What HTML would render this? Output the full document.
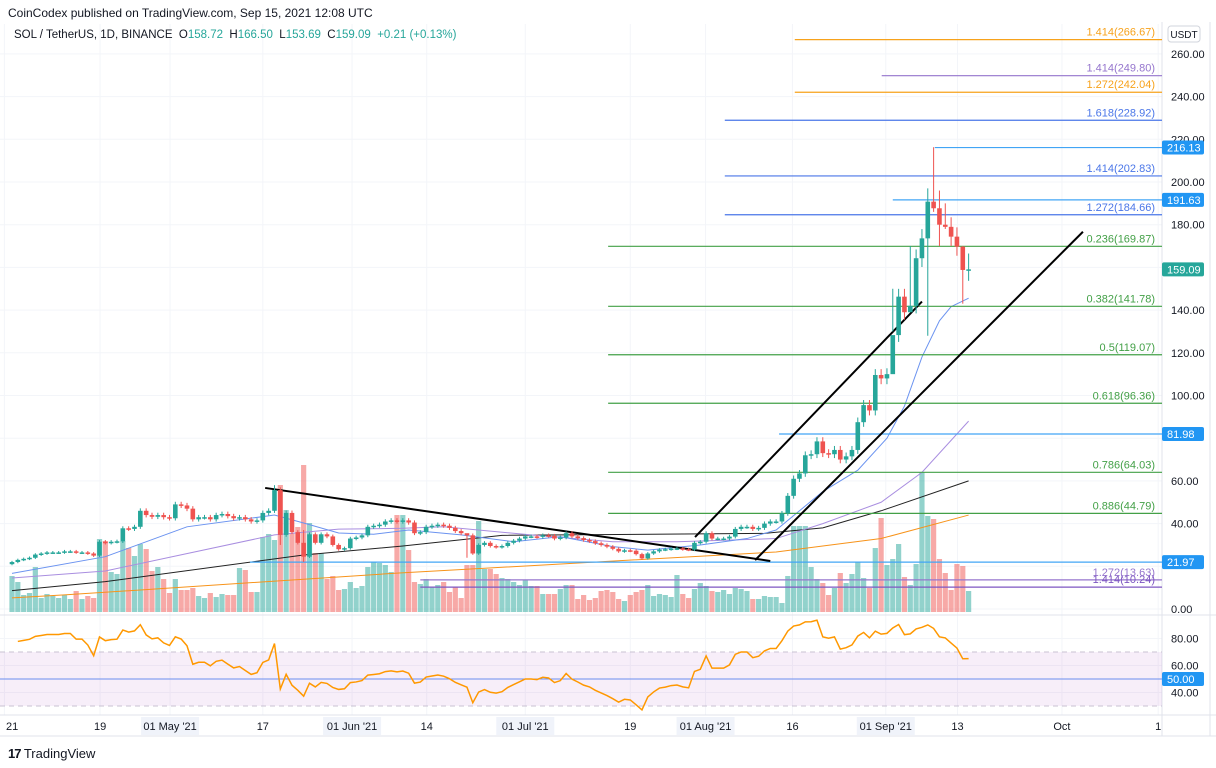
<!DOCTYPE html>
<html><head><meta charset="utf-8"><style>
html,body{margin:0;padding:0;background:#fff;width:1216px;height:768px;overflow:hidden;font-family:"Liberation Sans",sans-serif}
#hdr{position:absolute;left:8px;top:6px;font-size:12px;color:#131722}
#sym{position:absolute;left:14px;top:29px;font-size:11.5px;color:#131722}
#sym span.v{color:#26a69a}
#logo{position:absolute;left:8px;top:746px;font-size:13px;color:#131722}
</style></head><body>
<svg id="chart" width="1216" height="768" style="position:absolute;left:0;top:0" font-family="Liberation Sans, sans-serif"></svg>
<div id="hdr">CoinCodex published on TradingView.com, Sep 15, 2021 12:08 UTC</div>
<div id="sym">SOL / TetherUS, 1D, BINANCE&nbsp; O<span class="v">158.72</span>&nbsp; H<span class="v">166.50</span>&nbsp; L<span class="v">153.69</span>&nbsp; C<span class="v">159.09</span>&nbsp; <span class="v">+0.21 (+0.13%)</span></div>
<div id="logo"><b style="letter-spacing:-1px">17</b> TradingView</div>
<script>
const closes=[22,23,23.5,24,25.5,26,26.5,26.5,26.5,27,27,26.5,26.5,26,25,31.5,31,31.5,31.7,37.8,37.5,38.5,46,44,43.2,44,43,42.5,49,48.5,47,42,43,43,42,44,44.5,43.5,42.5,43,42,41,41.5,45,46,55.7,34.7,45,36,31,24.5,35,31,35,34,30,28,28.5,33,33.5,34.5,38.5,39,39.5,
41,41.5,41,41.5,40.5,35.5,36,38.5,39,39.5,39,38,36.5,35.5,34.5,26,30,31,29.5,29,29.5,31,32,33,34,34,33.8,34.5,34.3,33,33.5,35.5,34,33.2,32.3,31.8,30.8,30,29.2,28.2,27,27.5,27.3,25.7,23.7,26,27,27.8,28,28.3,28.4,28,27.8,31,31.5,35.5,33,33,33,33.9,37.5,38.5,38.5,37.5,38,40,41,41,44.8,
53,61,63.5,72,72.5,78.5,73,72.5,74.5,70,71.5,74.5,87.5,95.5,93,109.6,108,110,128.3,146.3,139,142,164.3,173.6,190.8,187.7,180,179,174.4,169.7,158.8,159.09];
const firstOpen=21;
const wicks={46:[58,45],47:[57,30],51:[37,22],79:[35,24],158:[197,128],159:[216.3,186],160:[196,170],161:[190,178],164:[170,143],165:[166.5,153.7],155:[170,139],152:[150,130]};
const volumes=[36,30,17,19,45,14,18,16,14,17,13,21,13,16,14,73,71,40,38,71,64,56,68,63,41,45,33,19,33,22,22,24,16,14,19,15,18,17,17,44,42,20,20,75,78,72,127,102,79,85,147,89,59,59,33,36,22,23,30,24,26,45,50,49,
47,40,97,97,62,30,28,33,25,27,30,20,25,14,47,47,91,43,43,38,34,33,30,27,32,26,26,18,18,18,23,27,27,13,17,12,14,21,22,20,13,11,17,20,22,27,16,18,17,15,37,18,14,23,29,26,21,20,22,18,24,23,21,13,13,16,15,15,
9,36,86,86,86,45,33,29,17,24,39,29,38,50,34,24,64,94,47,53,68,35,27,48,140,96,93,53,39,22,48,46,21];
const maBlue=[[1,16.7],[17,24.5],[31,38.5],[46,44],[51,40.3],[57,35.6],[63,35],[69,37],[78,34.7],[87,31.5],[95,33.9],[104,29.2],[110,27.6],[119,30],[127,33],[132,37],[140,55],[146,65],[151,80],[154,95],[157,118],[160,135],[162,141.6],[165,145.6]];
const maPurple=[[1,14.5],[17,17.8],[46,34.7],[57,37.4],[68,37.8],[75,38.5],[90,34.7],[104,31.5],[115,31.5],[132,33],[140,40],[150,50],[157,64],[165,88]];
const maBlack=[[1,8.6],[17,12.8],[51,25.3],[68,29.5],[85,34.5],[130,35.4],[140,38],[150,46],[165,60]];
const maOrange=[[1,5.2],[10,6.6],[67,16.8],[132,26.7],[150,33],[165,44]];
const priceTicks=[260,240,220,200,180,140,120,100,60,40,0];
const rsiTicks=[80,60,40];
const dateLabels=["21","19","01 May '21","17","01 Jun '21","14","01 Jul '21","19","01 Aug '21","16","01 Sep '21","13","Oct","1"];
const dateItems=[-0.3,16.1,28.1,44,59.3,72.1,89,107,119.9,134.8,150.8,163.1,181,197.5];
const dateBoxed=[0,0,1,0,1,0,1,0,1,0,1,0,0,0];
const fibPrices=[266.67,249.80,242.04,228.92,202.83,184.66,169.87,141.78,119.07,96.36,64.03,44.79,13.63,10.24];
const fibLabels=["1.414","1.414","1.272","1.618","1.414","1.272","0.236","0.382","0.5","0.618","0.786","0.886","1.272","1.414"];
const fibStart=[135.2,150.1,135.2,123.2,123.2,123.2,103.2,103.2,103.2,103.2,103.2,103.2,71,71];
const fibColors=["#f7a21b","#9575cd","#f7a21b","#4a76e8","#4a76e8","#4a76e8","#43a047","#43a047","#43a047","#43a047","#43a047","#43a047","#9575cd","#7e57c2"];
const hLevels=[216.13,191.63,81.98,21.97];
const hStart=[159.2,152,132.5,41.8];
const trendLines=[[44.4,56.7,131,22.5],[118.1,33.7,157,144],[128.4,22.9,184.6,176.7]];

const X=i=>12+(i-1)*5.833;
const Y=p=>609-p*2.135;
const RY=r=>679-(r-50)*1.35;
const VB=612;
const svg=document.getElementById('chart');
const NS='http://www.w3.org/2000/svg';
function mk(tag,attrs,parent){const e=document.createElementNS(NS,tag);for(const k in attrs)e.setAttribute(k,attrs[k]);(parent||svg).appendChild(e);return e;}
const AX=1162;
const grid=mk('g',{});


for(let p=0;p<=260;p+=20)mk('line',{x1:0,x2:AX,y1:Y(p),y2:Y(p),stroke:'#f3f5f9'},grid);
dateItems.forEach(d=>{const x=X(d);mk('line',{x1:x,x2:x,y1:24,y2:715,stroke:'#f3f5f9'},grid);});
[80,60,40].forEach(r=>mk('line',{x1:0,x2:AX,y1:RY(r),y2:RY(r),stroke:'#f3f5f9'},grid));
mk('line',{x1:0,x2:1216,y1:615,y2:615,stroke:'#e0e3eb'});
mk('line',{x1:0,x2:1216,y1:715,y2:715,stroke:'#e0e3eb'});
mk('line',{x1:0,x2:1216,y1:736,y2:736,stroke:'#e0e3eb'});
mk('line',{x1:AX,x2:AX,y1:22,y2:736,stroke:'#e0e3eb'});
mk('line',{x1:1210,x2:1210,y1:22,y2:736,stroke:'#e0e3eb'});
const vg=mk('g',{});


volumes.forEach((v,k)=>{const i=k+1;const o=k?closes[k-1]:firstOpen;const up=closes[k]>=o;
 const r=mk('rect',{x:X(i)-2.6,y:VB-v,width:5.2,height:v,fill:up?'rgba(38,166,154,0.5)':'rgba(239,83,80,0.5)'},vg);
 
 });
function ma(arr,color,name){const pts=arr.map(a=>X(a[0])+','+Y(a[1])).join(' ');const l=mk('polyline',{points:pts,fill:'none',stroke:color,'stroke-width':1});
 
 }
ma(maOrange,'#f7931a','ma-200-orange');ma(maBlack,'#222','ma-100-black');ma(maPurple,'#a98ee0','ma-50-purple');ma(maBlue,'#6b93f0','ma-20-blue');
fibPrices.forEach((p,k)=>{const y=Y(p);const l=mk('line',{x1:X(fibStart[k]),x2:AX,y1:y,y2:y,stroke:fibColors[k],'stroke-width':1.2});
 
 
 const t=mk('text',{x:1155,y:y-4,'text-anchor':'end','font-size':11,fill:fibColors[k]});t.textContent=fibLabels[k]+'('+p.toFixed(2)+')';
 
 });
hLevels.forEach((p,k)=>{const y=Y(p);const l=mk('line',{x1:X(hStart[k]),x2:AX,y1:y,y2:y,stroke:'#42a5f5','stroke-width':1.2});
 
 });
trendLines.forEach(t=>{const l=mk('line',{x1:X(t[0]),y1:Y(t[1]),x2:X(t[2]),y2:Y(t[3]),stroke:'#000','stroke-width':2});
 
 });
const cg=mk('g',{});


closes.forEach((c,k)=>{const i=k+1;const o=k?closes[k-1]:firstOpen;const up=c>=o;const col=up?'#26a69a':'#ef5350';
 let hi=Math.max(o,c)*1.025,lo=Math.min(o,c)*0.975;if(wicks[i]){hi=wicks[i][0];lo=wicks[i][1];}
 const x=X(i);mk('line',{x1:x,x2:x,y1:Y(hi),y2:Y(lo),stroke:col,'stroke-width':1},cg);
 const yt=Y(Math.max(o,c)),yb=Y(Math.min(o,c));
 const b=mk('rect',{x:x-2.3,y:yt,width:4.6,height:Math.max(1.5,yb-yt),fill:col},cg);
 
 });
const rg=mk('g',{});


mk('rect',{x:0,y:RY(70),width:AX,height:RY(30)-RY(70),fill:'rgba(156,39,176,0.08)'},rg);
mk('line',{x1:0,x2:AX,y1:RY(70),y2:RY(70),stroke:'#c8c2d2','stroke-dasharray':'5,4'},rg);
mk('line',{x1:0,x2:AX,y1:RY(30),y2:RY(30),stroke:'#c8c2d2','stroke-dasharray':'5,4'},rg);
mk('line',{x1:0,x2:AX,y1:RY(50),y2:RY(50),stroke:'#6b8ff0','stroke-width':1},rg);
let ag=0.8,al=0.25;const rpts=[];
for(let k=1;k<closes.length;k++){const d=closes[k]-closes[k-1];ag=(ag*13+Math.max(d,0))/14;al=(al*13+Math.max(-d,0))/14;const r=100-100/(1+ag/al);rpts.push(X(k+1)+','+RY(r));}
const rl=mk('polyline',{points:rpts.join(' '),fill:'none',stroke:'#ff9800','stroke-width':1.5},rg);


const ax=mk('g',{'font-size':11,fill:'#131722'});


priceTicks.forEach(p=>{const t=mk('text',{x:1171,y:Y(p)+4},ax);t.textContent=p.toFixed(2);});
rsiTicks.forEach(r=>{const t=mk('text',{x:1171,y:RY(r)+4},ax);t.textContent=r.toFixed(2);});
function badge(p,yv,color,name){const g=mk('g',{});
 
 
 mk('rect',{x:AX,y:yv-7,width:42,height:14,rx:2,fill:color},g);const t=mk('text',{x:1167,y:yv+4,'font-size':11,fill:'#fff'},g);t.textContent=p.toFixed(2);}
badge(216.13,Y(216.13),'#2196f3','badge-216');badge(191.63,Y(191.63),'#2196f3','badge-191');
badge(159.09,Y(159.09),'#26a69a','badge-last-price');badge(81.98,Y(81.98),'#2196f3','badge-82');badge(21.97,Y(21.97),'#2196f3','badge-22');
badge(50,RY(50),'#2196f3','badge-rsi-50');
const ub=mk('g',{});


mk('rect',{x:1168,y:26,width:32,height:16,rx:3,fill:'#fff',stroke:'#d1d4dc'},ub);
const ut=mk('text',{x:1184,y:38,'text-anchor':'middle','font-size':10,fill:'#131722'},ub);ut.textContent='USDT';
const tg=mk('g',{'font-size':11,fill:'#131722'});


dateLabels.forEach((s,k)=>{const x=X(dateItems[k]);if(dateBoxed[k])mk('rect',{x:x-29,y:717,width:58,height:18,fill:'#f0f3fa'},tg);
 const t=mk('text',{x:x,y:730,'text-anchor':k===0?'start':'middle'},tg);if(k===0)t.setAttribute('x',6);t.textContent=s;});
</script>
</body></html>
